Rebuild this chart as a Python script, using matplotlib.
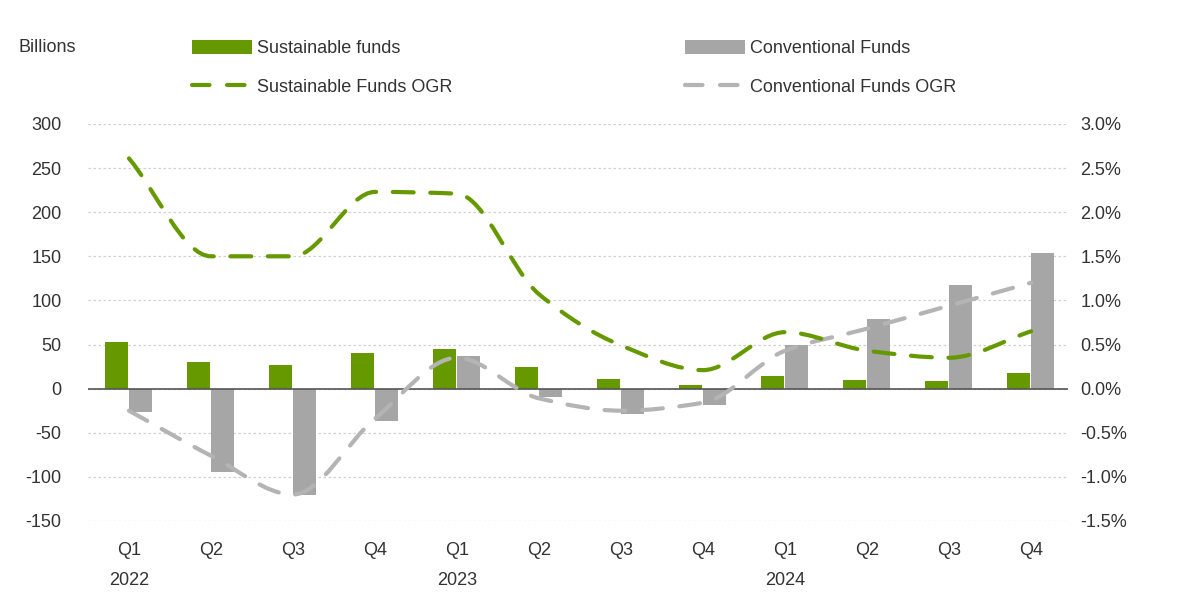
import numpy as np
import matplotlib
matplotlib.use("Agg")
import matplotlib.pyplot as plt
from matplotlib.path import Path
from matplotlib.patches import PathPatch, Patch
from matplotlib.lines import Line2D
from matplotlib.ticker import FuncFormatter

quarters = ["Q1\n2022", "Q2", "Q3", "Q4", "Q1\n2023", "Q2", "Q3", "Q4",
            "Q1\n2024", "Q2", "Q3", "Q4"]
sustainable = [53, 30, 27, 40, 45, 24, 11, 4, 14, 10, 9, 18]
conventional = [-27, -94, -121, -37, 37, -10, -29, -18, 50, 79, 117, 154]
sustainable_ogr = [2.61, 1.50, 1.50, 2.23, 2.21, 1.07, 0.49, 0.21, 0.64, 0.43, 0.35, 0.65]
conventional_ogr = [-0.25, -0.76, -1.20, -0.34, 0.35, -0.11, -0.25, -0.16, 0.43, 0.68, 0.94, 1.20]

GREEN = "#669900"
GRAY_BAR = "#a6a6a6"
GRAY_LINE = "#b4b4b4"
TXT = "#333333"

plt.rcParams["font.family"] = ["Liberation Sans", "DejaVu Sans"]
plt.rcParams["axes.unicode_minus"] = False
FS = 13


def smooth_path(xs, ys):
    # monotone cubic (flat at local extremes), drawn as bezier segments
    xs = np.asarray(xs, float)
    ys = np.asarray(ys, float)
    h = np.diff(xs)
    d = np.diff(ys) / h
    m = np.zeros_like(ys)
    m[0], m[-1] = d[0], d[-1]
    for k in range(1, len(ys) - 1):
        if d[k - 1] * d[k] <= 0:
            m[k] = 0.0
        else:
            m[k] = 2.0 / (1.0 / d[k - 1] + 1.0 / d[k])
    verts = [(xs[0], ys[0])]
    codes = [Path.MOVETO]
    for k in range(len(ys) - 1):
        verts += [(xs[k] + h[k] / 3, ys[k] + m[k] * h[k] / 3),
                  (xs[k + 1] - h[k] / 3, ys[k + 1] - m[k + 1] * h[k] / 3),
                  (xs[k + 1], ys[k + 1])]
        codes += [Path.CURVE4] * 3
    return Path(verts, codes)


fig = plt.figure(figsize=(12, 5.98), dpi=100)
ax = fig.add_axes([0.0733, 0.1288, 0.8167, 0.6639])
x = np.arange(len(quarters))
w = 0.28
ax.bar(x - 0.15, sustainable, w, color=GREEN, zorder=2)
ax.bar(x + 0.14, conventional, w, color=GRAY_BAR, zorder=2)
ax.set_ylim(-150, 300)
ax.set_xlim(-0.5, 11.45)
ax.set_yticks(range(-150, 301, 50))
ax.yaxis.grid(True, linestyle=(0, (2, 2)), color="#d0d0d0", linewidth=0.9, zorder=0)
ax.axhline(0, color="#555555", linewidth=1.2, zorder=3)
for s in ax.spines.values():
    s.set_visible(False)
ax.set_xticks(x)
ax.set_xticklabels(quarters, linespacing=2.0, va="top")
ax.tick_params(axis="both", length=0, colors=TXT, labelsize=FS)
ax.tick_params(axis="x", pad=15)
ax.tick_params(axis="y", pad=19)

ax2 = ax.twinx()
ax2.set_ylim(-1.5, 3.0)
ax2.set_yticks(np.arange(-1.5, 3.01, 0.5))
ax2.yaxis.set_major_formatter(FuncFormatter(lambda v, p: f"{v:.1f}%"))
ax2.tick_params(axis="y", length=0, colors=TXT, labelsize=FS, pad=9)
for s in ax2.spines.values():
    s.set_visible(False)

dash = (0, (5, 4))
for vals, col in [(conventional_ogr, GRAY_LINE), (sustainable_ogr, GREEN)]:
    patch = PathPatch(smooth_path(x, vals), fill=False, edgecolor=col,
                      linewidth=3, linestyle=dash, capstyle="round", zorder=4)
    ax2.add_patch(patch)


def legend_col(handles, labels, xpos):
    leg = fig.legend(handles, labels, loc="upper left",
                     bbox_to_anchor=(xpos, 1 - 40 / 598), frameon=False,
                     handlelength=3.3, handleheight=0.8, handletextpad=0.3,
                     labelspacing=1.2, fontsize=FS, borderaxespad=0,
                     borderpad=0)
    for t in leg.get_texts():
        t.set_color(TXT)


legend_col([Patch(facecolor=GREEN, edgecolor="none"),
            Line2D([], [], color=GREEN, linewidth=3, linestyle=(0, (4.2, 4.2)),
                   dash_capstyle="round")],
           ["Sustainable funds", "Sustainable Funds OGR"], 192 / 1200)
legend_col([Patch(facecolor=GRAY_BAR, edgecolor="none"),
            Line2D([], [], color=GRAY_LINE, linewidth=3, linestyle=(0, (4.2, 4.2)),
                   dash_capstyle="round")],
           ["Conventional Funds", "Conventional Funds OGR"], 685 / 1200)

fig.text(19 / 1200, 1 - 47 / 598, "Billions", color=TXT, fontsize=FS,
         ha="left", va="center")

fig.savefig("out.png", dpi=100)
